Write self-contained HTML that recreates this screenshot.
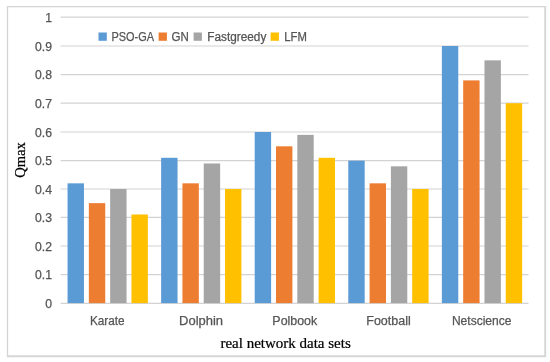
<!DOCTYPE html>
<html><head><meta charset="utf-8"><title>chart</title>
<style>html,body{margin:0;padding:0;background:#fff}svg{display:block}text{font-family:"Liberation Sans",sans-serif;fill:#555;stroke:#555;stroke-width:0.25px}.t{font-family:"Liberation Serif",serif;fill:#000;stroke:#000;stroke-width:0.22px}</style></head><body>
<svg width="550" height="362" viewBox="0 0 550 362">
<rect x="0" y="0" width="550" height="362" fill="#fff"/>
<path d="M7.5 357.2V6.7H546" fill="none" stroke="#D4D4D4" stroke-width="1.3"/><path d="M545.2 6.1V356.3H6.9" fill="none" stroke="#D6D6D6" stroke-width="1.9"/>
<line x1="60.6" x2="528.5" y1="303.35" y2="303.35" stroke="#D3D3D3" stroke-width="1.2"/>
<text x="52" y="307.95" font-size="12.2" text-anchor="end">0</text>
<line x1="60.6" x2="528.5" y1="274.70" y2="274.70" stroke="#D3D3D3" stroke-width="1.2"/>
<text x="52" y="279.30" font-size="12.2" text-anchor="end">0.1</text>
<line x1="60.6" x2="528.5" y1="246.00" y2="246.00" stroke="#D3D3D3" stroke-width="1.2"/>
<text x="52" y="250.60" font-size="12.2" text-anchor="end">0.2</text>
<line x1="60.6" x2="528.5" y1="217.30" y2="217.30" stroke="#D3D3D3" stroke-width="1.2"/>
<text x="52" y="221.90" font-size="12.2" text-anchor="end">0.3</text>
<line x1="60.6" x2="528.5" y1="189.00" y2="189.00" stroke="#D3D3D3" stroke-width="1.2"/>
<text x="52" y="193.60" font-size="12.2" text-anchor="end">0.4</text>
<line x1="60.6" x2="528.5" y1="160.65" y2="160.65" stroke="#D3D3D3" stroke-width="1.2"/>
<text x="52" y="165.25" font-size="12.2" text-anchor="end">0.5</text>
<line x1="60.6" x2="528.5" y1="132.00" y2="132.00" stroke="#D3D3D3" stroke-width="1.2"/>
<text x="52" y="136.60" font-size="12.2" text-anchor="end">0.6</text>
<line x1="60.6" x2="528.5" y1="103.20" y2="103.20" stroke="#D3D3D3" stroke-width="1.2"/>
<text x="52" y="107.80" font-size="12.2" text-anchor="end">0.7</text>
<line x1="60.6" x2="528.5" y1="74.70" y2="74.70" stroke="#D3D3D3" stroke-width="1.2"/>
<text x="52" y="79.30" font-size="12.2" text-anchor="end">0.8</text>
<line x1="60.6" x2="528.5" y1="46.00" y2="46.00" stroke="#D3D3D3" stroke-width="1.2"/>
<text x="52" y="50.60" font-size="12.2" text-anchor="end">0.9</text>
<line x1="60.6" x2="528.5" y1="17.10" y2="17.10" stroke="#D3D3D3" stroke-width="1.2"/>
<text x="52" y="21.70" font-size="12.2" text-anchor="end">1</text>
<rect x="67.55" y="183.33" width="16.4" height="119.77" fill="#5B9BD5"/>
<rect x="88.85" y="203.15" width="16.4" height="99.95" fill="#ED7D31"/>
<rect x="110.15" y="189.00" width="16.4" height="114.10" fill="#A5A5A5"/>
<rect x="131.45" y="214.47" width="16.4" height="88.63" fill="#FFC000"/>
<text x="107.3" y="324.7" font-size="12.3" text-anchor="middle" textLength="34.8" lengthAdjust="spacingAndGlyphs">Karate</text>
<rect x="161.13" y="157.79" width="16.4" height="145.31" fill="#5B9BD5"/>
<rect x="182.43" y="183.33" width="16.4" height="119.77" fill="#ED7D31"/>
<rect x="203.73" y="163.48" width="16.4" height="139.62" fill="#A5A5A5"/>
<rect x="225.03" y="189.00" width="16.4" height="114.10" fill="#FFC000"/>
<text x="201.1" y="324.7" font-size="12.3" text-anchor="middle" textLength="44.0" lengthAdjust="spacingAndGlyphs">Dolphin</text>
<rect x="254.71" y="132.00" width="16.4" height="171.10" fill="#5B9BD5"/>
<rect x="276.01" y="146.32" width="16.4" height="156.78" fill="#ED7D31"/>
<rect x="297.31" y="134.87" width="16.4" height="168.24" fill="#A5A5A5"/>
<rect x="318.61" y="157.79" width="16.4" height="145.31" fill="#FFC000"/>
<text x="294.8" y="324.7" font-size="12.3" text-anchor="middle" textLength="44.9" lengthAdjust="spacingAndGlyphs">Polbook</text>
<rect x="348.29" y="160.65" width="16.4" height="142.45" fill="#5B9BD5"/>
<rect x="369.59" y="183.33" width="16.4" height="119.77" fill="#ED7D31"/>
<rect x="390.89" y="166.32" width="16.4" height="136.78" fill="#A5A5A5"/>
<rect x="412.19" y="189.00" width="16.4" height="114.10" fill="#FFC000"/>
<text x="388.5" y="324.7" font-size="12.3" text-anchor="middle" textLength="44.4" lengthAdjust="spacingAndGlyphs">Football</text>
<rect x="441.87" y="46.00" width="16.4" height="257.10" fill="#5B9BD5"/>
<rect x="463.17" y="80.40" width="16.4" height="222.70" fill="#ED7D31"/>
<rect x="484.47" y="60.35" width="16.4" height="242.75" fill="#A5A5A5"/>
<rect x="505.77" y="103.20" width="16.4" height="199.90" fill="#FFC000"/>
<text x="481.7" y="324.7" font-size="12.3" text-anchor="middle" textLength="59.6" lengthAdjust="spacingAndGlyphs">Netscience</text>
<rect x="98.5" y="32.5" width="8.3" height="8.3" fill="#5B9BD5"/>
<text x="111.5" y="41.3" font-size="12" textLength="42.5" lengthAdjust="spacingAndGlyphs">PSO-GA</text>
<rect x="158.6" y="32.5" width="8.3" height="8.3" fill="#ED7D31"/>
<text x="171.5" y="41.3" font-size="12" textLength="17.3" lengthAdjust="spacingAndGlyphs">GN</text>
<rect x="193.6" y="32.5" width="8.3" height="8.3" fill="#A5A5A5"/>
<text x="207.3" y="41.3" font-size="12" textLength="59" lengthAdjust="spacingAndGlyphs">Fastgreedy</text>
<rect x="270.6" y="32.5" width="8.3" height="8.3" fill="#FFC000"/>
<text x="284.2" y="41.3" font-size="12" textLength="22.6" lengthAdjust="spacingAndGlyphs">LFM</text>
<text class="t" x="285.6" y="347.5" font-size="15" text-anchor="middle">real network data sets</text>
<text class="t" transform="translate(25.3,160.0) rotate(-90)" font-size="15" text-anchor="middle" textLength="35.6" lengthAdjust="spacingAndGlyphs">Qmax</text>
</svg></body></html>
